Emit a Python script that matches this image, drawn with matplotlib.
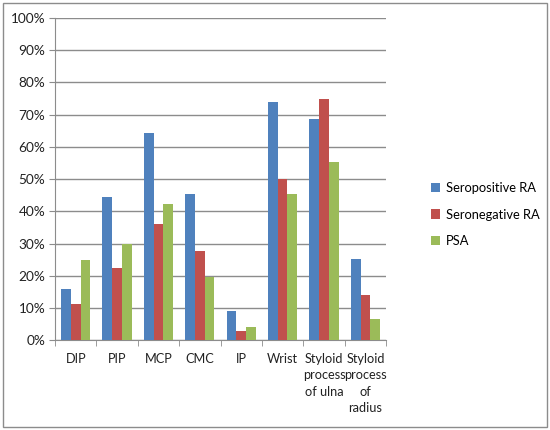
import matplotlib
matplotlib.use('Agg')
import matplotlib.pyplot as plt
import numpy as np
from matplotlib.patches import Rectangle

# data (percent)
categories = ['DIP', 'PIP', 'MCP', 'CMC', 'IP', 'Wrist',
              'Styloid\nprocess\nof ulna', 'Styloid\nprocess\nof\nradius']
seropositive = [15.8, 44.5, 64.4, 45.3, 8.9, 74.0, 68.8, 25.1]
seronegative = [11.2, 22.3, 36.1, 27.8, 2.8, 50.0, 75.0, 14.1]
psa = [24.8, 30.0, 42.4, 19.6, 4.0, 45.5, 55.2, 6.6]
series_names = ['Seropositive RA', 'Seronegative RA', 'PSA']
colors = ['#4F81BD', '#C0504D', '#9BBB59']

plt.rcParams['font.family'] = ['Lato', 'DejaVu Sans']

fig = plt.figure(figsize=(5.5, 4.3), dpi=100)
ax = fig.add_axes([0.1, 0.209, 0.602, 0.749])

x = np.arange(len(categories))
w = 0.235
for i, (vals, name, c) in enumerate(zip([seropositive, seronegative, psa], series_names, colors)):
    ax.bar(x + (i - 1) * w, vals, width=w, color=c, label=name, zorder=3)

ax.set_xlim(-0.5, len(categories) - 0.5)
ax.set_ylim(0, 100)
ax.set_yticks(np.arange(0, 101, 10))
ax.set_yticklabels([f'{v}%' for v in range(0, 101, 10)], fontsize=9.8, color='#222222')
ax.yaxis.grid(True, color='#8c8c8c', linewidth=1, zorder=0)

# category labels centered, tick marks between groups
ax.set_xticks(x)
ax.set_xticklabels(categories, fontsize=9.2, color='#222222', linespacing=1.45, va='top')
ax.tick_params(axis='x', length=0, pad=9)
ax.set_xticks(np.arange(-0.5, len(categories)), minor=True)
ax.tick_params(axis='x', which='minor', length=4, color='#8c8c8c', direction='out')
ax.tick_params(axis='y', length=4, color='#8c8c8c', direction='out', pad=3)

for s in ['top', 'right']:
    ax.spines[s].set_visible(False)
for s in ['left', 'bottom']:
    ax.spines[s].set_color('#8c8c8c')

ax.legend(loc='center left', bbox_to_anchor=(1.1, 0.39), frameon=False,
          fontsize=9.3, handlelength=0.7, handleheight=0.7, labelspacing=1.15,
          handletextpad=0.5)

# outer chart border
fig.patches.append(Rectangle((0.006, 0.007), 0.988, 0.986, transform=fig.transFigure,
                             fill=False, edgecolor='#8c8c8c', linewidth=1))

fig.savefig('out.png', dpi=100)
